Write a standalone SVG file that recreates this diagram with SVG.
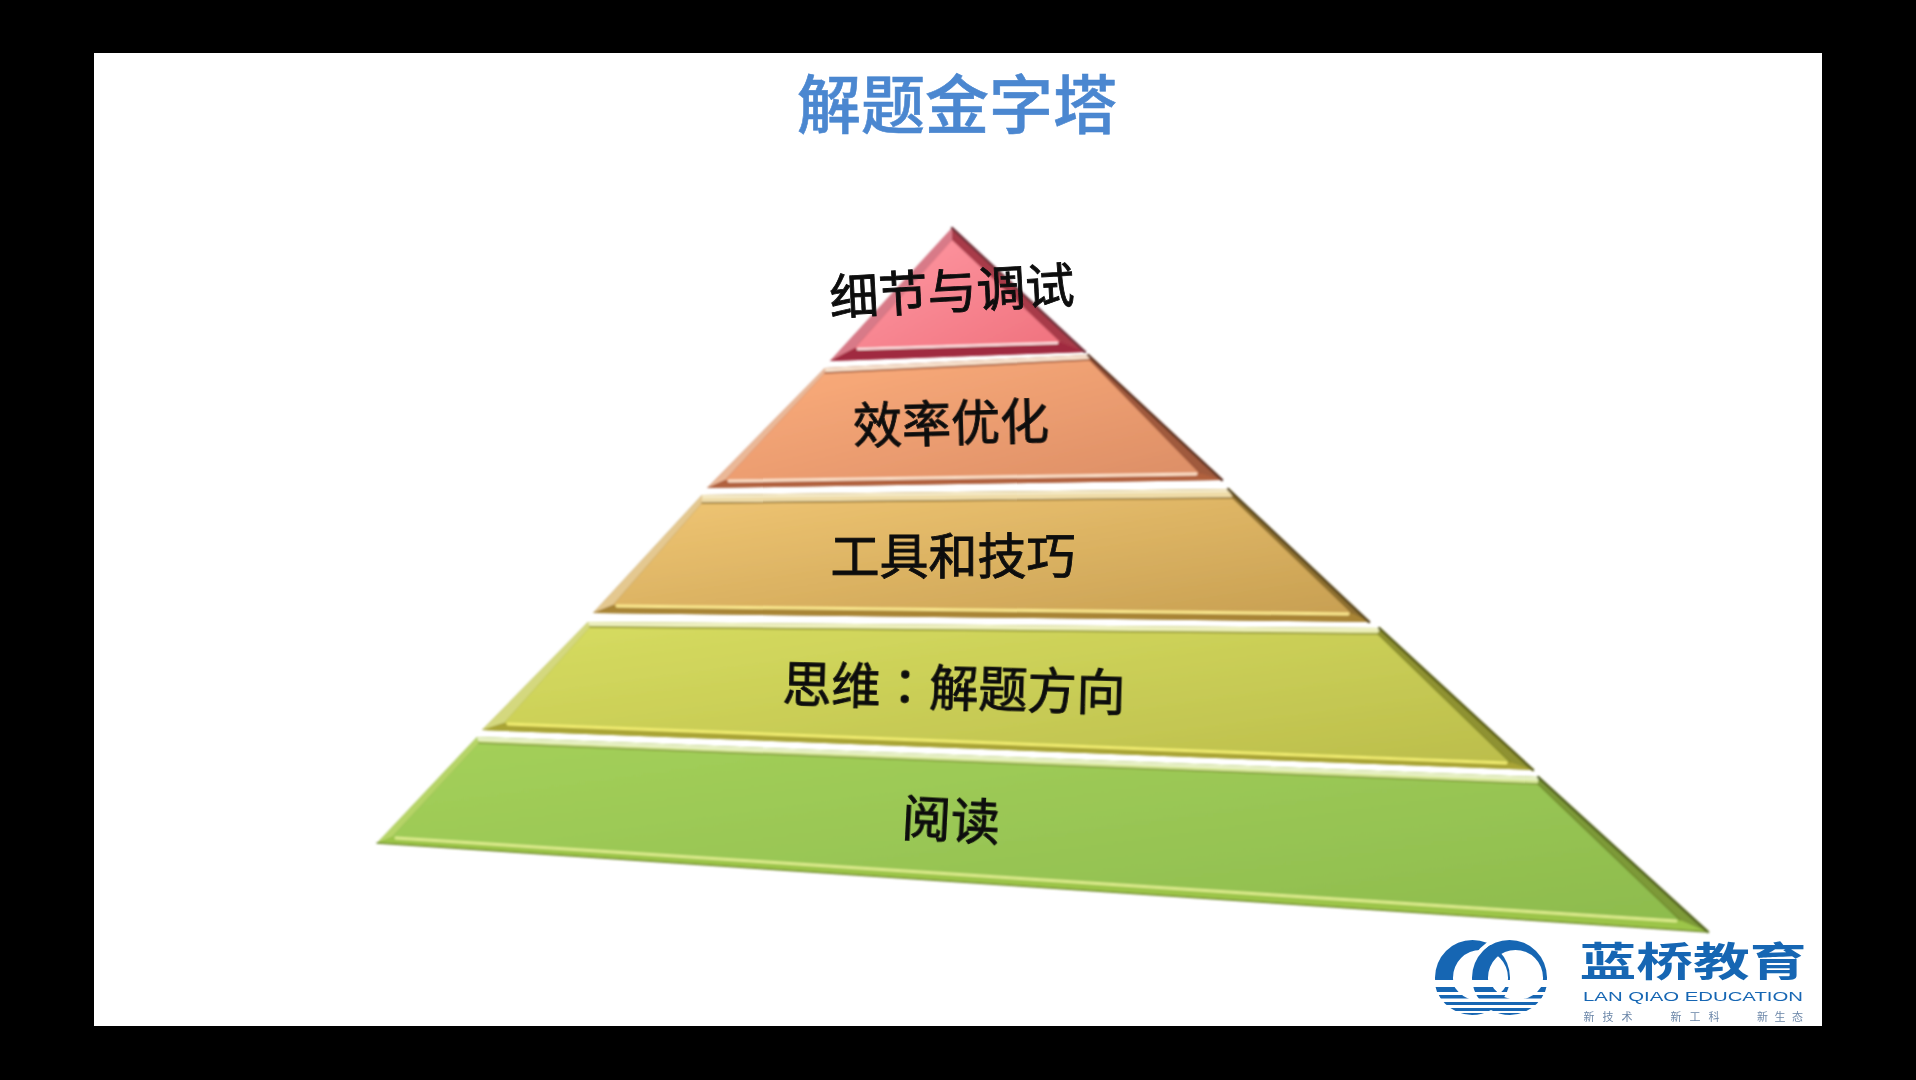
<svg xmlns="http://www.w3.org/2000/svg" width="1916" height="1080" viewBox="0 0 1916 1080">
<style>
.cn{font-family:"Noto Sans CJK SC","Noto Sans",sans-serif;text-anchor:middle}
.lab{font-size:49px;fill:#0a0a0a;stroke:#0a0a0a;stroke-width:.9px}
.edge{fill:none;stroke-linecap:round}
.logo{fill:#1566b3}
</style>
<defs>
<filter id="soft" x="-5%" y="-5%" width="110%" height="110%"><feGaussianBlur stdDeviation="0.8"/></filter>
<filter id="softer" x="-5%" y="-5%" width="110%" height="110%"><feGaussianBlur stdDeviation="0.5"/></filter>
<linearGradient id="g1" x1="0" y1="0" x2="1" y2="1"><stop offset="0" stop-color="#ff9aa4"/><stop offset="1" stop-color="#f0727e"/></linearGradient>
<linearGradient id="g2" x1="0" y1="0" x2="1" y2="1"><stop offset="0" stop-color="#fdae7c"/><stop offset="1" stop-color="#dc8e66"/></linearGradient>
<linearGradient id="g3" x1="0" y1="0" x2="1" y2="1"><stop offset="0" stop-color="#f0c674"/><stop offset="1" stop-color="#c8a052"/></linearGradient>
<linearGradient id="g4" x1="0" y1="0" x2="1" y2="1"><stop offset="0" stop-color="#d6dc60"/><stop offset="1" stop-color="#bcbe4c"/></linearGradient>
<linearGradient id="g5" x1="0" y1="0" x2="1" y2="1"><stop offset="0" stop-color="#a4d05a"/><stop offset="1" stop-color="#8ebc4e"/></linearGradient>
<clipPath id="stripes">
<path clip-rule="evenodd" d="M1434 977a38 38 0 1 0 76 0a38 38 0 1 0-76 0ZM1450 971a30 30 0 1 0 60 0a30 30 0 1 0-60 0Z"/>
<path clip-rule="evenodd" d="M1472 977a38 38 0 1 0 76 0a38 38 0 1 0-76 0ZM1488 971a29 29 0 1 0 58 0a29 29 0 1 0-58 0Z"/>
</clipPath>
<clipPath id="upper"><rect x="1425" y="930" width="130" height="50"/></clipPath>
</defs>

<rect width="1916" height="1080" fill="#000"/>
<rect id="slide" x="94" y="53" width="1728" height="973" fill="#fff"/>

<g id="title" filter="url(#softer)">
<text class="cn" x="957" y="128" font-size="64" font-weight="500" fill="#4b87d0" stroke="#4b87d0" stroke-width=".6">解题金字塔</text>
</g>

<g id="pyramid" filter="url(#soft)">
<g id="tier-reading">
<polygon points="477,737 1538,777 1708,932 377,843" fill="#7d9a38"/>
<polygon points="477,737 479,743 392,837 377,843" fill="#b6d468"/>
<polygon points="392,837 1680,920 1708,932 377,843" fill="#9cc548"/>
<polygon points="479,743 1538,784 1680,920 392,837" fill="url(#g5)"/>
<line class="edge" x1="396" y1="838" x2="1676" y2="921" stroke="#dceb8c" stroke-width="3"/>
<polygon points="477,737 1538,777 1538,784 479,743" fill="#d8e89a"/>
<line class="edge" x1="478" y1="739" x2="1538" y2="779" stroke="#f4f8e4" stroke-width="1.500"/>
<line class="edge" x1="479" y1="743" x2="1538" y2="784" stroke="#7f9a36" stroke-width="1.500"/>
<line class="edge" x1="1538" y1="777" x2="1708" y2="932" stroke="#4f5e1c" stroke-width="2.500"/>
<line class="edge" x1="1538" y1="784" x2="1680" y2="920" stroke="#6f8a2c" stroke-width="1.500"/>
<line class="edge" x1="377" y1="843" x2="1708" y2="932" stroke="#6f8a2c" stroke-width="1.500"/>
</g>
<g id="tier-thinking">
<polygon points="588,622 1379,628 1533,770 482,730" fill="#8f9230"/>
<polygon points="588,622 590,627 504,723 482,730" fill="#d4d87e"/>
<polygon points="504,723 1510,762 1533,770 482,730" fill="#a9a434"/>
<polygon points="590,627 1378,634 1510,762 504,723" fill="url(#g4)"/>
<line class="edge" x1="508" y1="724" x2="1506" y2="763" stroke="#f0ec70" stroke-width="3"/>
<polygon points="588,622 1379,628 1378,634 590,627" fill="#e4e8a0"/>
<line class="edge" x1="589" y1="624" x2="1379" y2="630" stroke="#f6f7d8" stroke-width="1.500"/>
<line class="edge" x1="590" y1="627" x2="1378" y2="634" stroke="#8e9230" stroke-width="1.500"/>
<line class="edge" x1="1379" y1="628" x2="1533" y2="770" stroke="#565a18" stroke-width="2.500"/>
<line class="edge" x1="1378" y1="634" x2="1510" y2="762" stroke="#858a28" stroke-width="1.500"/>
</g>
<g id="tier-tools">
<polygon points="702,495 1228,489 1369,622 593,613" fill="#8e7030"/>
<polygon points="702,495 702,503 613,605 593,613" fill="#e4c890"/>
<polygon points="613,605 1352,613 1369,622 593,613" fill="#a88434"/>
<polygon points="702,503 1233,498 1352,613 613,605" fill="url(#g3)"/>
<line class="edge" x1="617" y1="606" x2="1348" y2="614" stroke="#fbe88e" stroke-width="3"/>
<polygon points="702,495 1228,489 1233,498 702,503" fill="#efdca8"/>
<line class="edge" x1="703" y1="497" x2="1228" y2="491" stroke="#f8f2d8" stroke-width="1.500"/>
<line class="edge" x1="702" y1="503" x2="1233" y2="498" stroke="#8e7030" stroke-width="1.500"/>
<line class="edge" x1="1228" y1="489" x2="1369" y2="622" stroke="#54431a" stroke-width="2.500"/>
<line class="edge" x1="1233" y1="498" x2="1352" y2="613" stroke="#8a6c2c" stroke-width="1.500"/>
</g>
<g id="tier-efficiency">
<polygon points="825,368 1088,355 1222,480 707,488" fill="#a05a3e"/>
<polygon points="825,368 825,373 725,480 707,488" fill="#eab898"/>
<polygon points="725,480 1200,473 1222,480 707,488" fill="#b0603e"/>
<polygon points="825,373 1090,360 1200,473 725,480" fill="url(#g2)"/>
<line class="edge" x1="729" y1="481" x2="1196" y2="474" stroke="#fde0c8" stroke-width="3"/>
<polygon points="825,368 1088,355 1090,360 825,373" fill="#f0cdb0"/>
<line class="edge" x1="826" y1="370" x2="1088" y2="357" stroke="#fbeee0" stroke-width="1.500"/>
<line class="edge" x1="825" y1="373" x2="1090" y2="360" stroke="#a05a3e" stroke-width="1.500"/>
<line class="edge" x1="1088" y1="355" x2="1222" y2="480" stroke="#5c3020" stroke-width="2.500"/>
<line class="edge" x1="1090" y1="360" x2="1200" y2="473" stroke="#9c5438" stroke-width="1.500"/>
</g>
<g id="tier-detail">
<polygon points="952,228 1085,352 830,361" fill="#a83a48"/>
<polygon points="952,228 952,240 855,348 830,361" fill="#d87a88"/>
<polygon points="855,348 1060,342 1085,352 830,361" fill="#a02c40"/>
<polygon points="952,240 1060,342 855,348" fill="url(#g1)"/>
<line class="edge" x1="858" y1="349" x2="1057" y2="343" stroke="#ffe2e2" stroke-width="2.500"/>
<line class="edge" x1="952" y1="228" x2="1085" y2="352" stroke="#70303a" stroke-width="2.500"/>
</g>
</g>

<g id="labels" filter="url(#softer)">
<text class="cn lab" transform="translate(952 291) rotate(-3)" y="18">细节与调试</text>
<text class="cn lab" transform="translate(951 423) rotate(-1.500)" y="18">效率优化</text>
<text class="cn lab" transform="translate(953 556)" y="18">工具和技巧</text>
<text class="cn lab" transform="translate(954 688) rotate(1.500)" y="18">思维<tspan font-family="'Noto Sans CJK TC',sans-serif">：</tspan>解题方向</text>
<text class="cn lab" transform="translate(951 820) rotate(3)" y="18">阅读</text>
</g>

<g id="logo" filter="url(#softer)">
<g clip-path="url(#upper)">
<path class="logo" fill-rule="evenodd" d="M1435 977.500a37.500 37.500 0 1 0 75 0a37.500 37.500 0 1 0-75 0ZM1453 977.500a27.500 27.500 0 1 0 55 0a27.500 27.500 0 1 0-55 0Z"/>
<circle cx="1509.500" cy="977.500" r="39.500" fill="none" stroke="#fff" stroke-width="4"/>
<path class="logo" fill-rule="evenodd" d="M1472 977.500a37.500 37.500 0 1 0 75 0a37.500 37.500 0 1 0-75 0ZM1488 977.500a27.500 27.500 0 1 0 55 0a27.500 27.500 0 1 0-55 0Z"/>
</g>
<g clip-path="url(#stripes)" class="logo">
<rect x="1430" y="987" width="125" height="5"/>
<rect x="1430" y="995" width="125" height="3.500"/>
<rect x="1430" y="1002" width="125" height="3"/>
<rect x="1430" y="1008" width="125" height="3"/>
<rect x="1430" y="1013" width="125" height="3"/>
</g>
<text class="cn" x="1693" y="976" font-size="40" font-weight="700" fill="#1566b3" textLength="227" lengthAdjust="spacingAndGlyphs">蓝桥教育</text>
<text x="1693" y="1001" font-family="'Liberation Sans',sans-serif" font-size="12.500" text-anchor="middle" fill="#1566b3" textLength="220" lengthAdjust="spacingAndGlyphs">LAN QIAO EDUCATION</text>
<g class="cn" font-size="11" fill="#6b86a8">
<text x="1608" y="1021" textLength="49">新技术</text>
<text x="1695" y="1021" textLength="49">新工科</text>
<text x="1780" y="1021" textLength="46">新生态</text>
</g>
</g>
</svg>
